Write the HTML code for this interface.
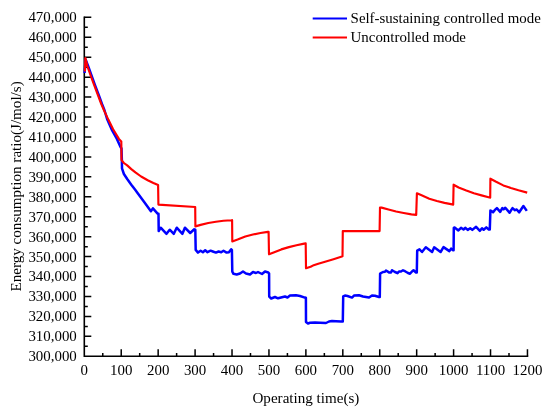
<!DOCTYPE html>
<html><head><meta charset="utf-8"><style>
html,body{margin:0;padding:0;background:#fff;width:550px;height:415px;overflow:hidden}
svg{display:block}
</style></head><body>
<svg width="550" height="415" viewBox="0 0 550 415">
<rect width="550" height="415" fill="#fff"/>
<g font-family="'Liberation Serif', 'Times New Roman', serif" font-size="14.9" fill="#000">
<text x="76.8" y="361.20" text-anchor="end">300,000</text>
<text x="76.8" y="341.26" text-anchor="end">310,000</text>
<text x="76.8" y="321.32" text-anchor="end">320,000</text>
<text x="76.8" y="301.38" text-anchor="end">330,000</text>
<text x="76.8" y="281.44" text-anchor="end">340,000</text>
<text x="76.8" y="261.50" text-anchor="end">350,000</text>
<text x="76.8" y="241.56" text-anchor="end">360,000</text>
<text x="76.8" y="221.62" text-anchor="end">370,000</text>
<text x="76.8" y="201.68" text-anchor="end">380,000</text>
<text x="76.8" y="181.74" text-anchor="end">390,000</text>
<text x="76.8" y="161.80" text-anchor="end">400,000</text>
<text x="76.8" y="141.86" text-anchor="end">410,000</text>
<text x="76.8" y="121.92" text-anchor="end">420,000</text>
<text x="76.8" y="101.98" text-anchor="end">430,000</text>
<text x="76.8" y="82.04" text-anchor="end">440,000</text>
<text x="76.8" y="62.10" text-anchor="end">450,000</text>
<text x="76.8" y="42.16" text-anchor="end">460,000</text>
<text x="76.8" y="22.22" text-anchor="end">470,000</text>
<text x="84.30" y="375.0" text-anchor="middle">0</text>
<text x="121.23" y="375.0" text-anchor="middle">100</text>
<text x="158.16" y="375.0" text-anchor="middle">200</text>
<text x="195.09" y="375.0" text-anchor="middle">300</text>
<text x="232.02" y="375.0" text-anchor="middle">400</text>
<text x="268.95" y="375.0" text-anchor="middle">500</text>
<text x="305.88" y="375.0" text-anchor="middle">600</text>
<text x="342.81" y="375.0" text-anchor="middle">700</text>
<text x="379.74" y="375.0" text-anchor="middle">800</text>
<text x="416.67" y="375.0" text-anchor="middle">900</text>
<text x="453.60" y="375.0" text-anchor="middle">1000</text>
<text x="490.53" y="375.0" text-anchor="middle">1100</text>
<text x="527.46" y="375.0" text-anchor="middle">1200</text>
<text x="305.9" y="403.1" text-anchor="middle" font-size="15.1">Operating time(s)</text>
<text transform="translate(21.4 186.4) rotate(-90)" text-anchor="middle" font-size="15.1">Energy consumption ratio(J/mol/s)</text>
<path d="M312.7 18.6H347" stroke="#00f" stroke-width="2"/>
<path d="M312.7 37.4H347" stroke="#f00" stroke-width="2"/>
<text x="350.6" y="23.3">Self-sustaining controlled mode</text>
<text x="350.6" y="41.9">Uncontrolled mode</text>
</g>
<path d="M84.30 17.4 V356.30 H527.46" fill="none" stroke="#000" stroke-width="1.6" stroke-linecap="square"/>
<path d="M84.30 346.33h3.5 M84.30 336.36h7 M84.30 326.39h3.5 M84.30 316.42h7 M84.30 306.45h3.5 M84.30 296.48h7 M84.30 286.51h3.5 M84.30 276.54h7 M84.30 266.57h3.5 M84.30 256.60h7 M84.30 246.63h3.5 M84.30 236.66h7 M84.30 226.69h3.5 M84.30 216.72h7 M84.30 206.75h3.5 M84.30 196.78h7 M84.30 186.81h3.5 M84.30 176.84h7 M84.30 166.87h3.5 M84.30 156.90h7 M84.30 146.93h3.5 M84.30 136.96h7 M84.30 126.99h3.5 M84.30 117.02h7 M84.30 107.05h3.5 M84.30 97.08h7 M84.30 87.11h3.5 M84.30 77.14h7 M84.30 67.17h3.5 M84.30 57.20h7 M84.30 47.23h3.5 M84.30 37.26h7 M84.30 27.29h3.5 M84.30 17.32h7 M102.77 356.30v-3.3 M121.23 356.30v-7 M139.69 356.30v-3.3 M158.16 356.30v-7 M176.62 356.30v-3.3 M195.09 356.30v-7 M213.56 356.30v-3.3 M232.02 356.30v-7 M250.49 356.30v-3.3 M268.95 356.30v-7 M287.42 356.30v-3.3 M305.88 356.30v-7 M324.35 356.30v-3.3 M342.81 356.30v-7 M361.28 356.30v-3.3 M379.74 356.30v-7 M398.21 356.30v-3.3 M416.67 356.30v-7 M435.14 356.30v-3.3 M453.60 356.30v-7 M472.07 356.30v-3.3 M490.53 356.30v-7 M509.00 356.30v-3.3 M527.46 356.30v-7" fill="none" stroke="#000" stroke-width="1.5"/>
<path d="M84.6 73.0 L85.6 59.5 L88.0 65.6 L94.9 84.9 L98.9 95.5 L102.0 104.0 L104.4 110.0 L107.3 119.6 L111.6 129.3 L116.9 138.9 L120.3 146.6 L121.5 148.5 L121.9 160.9 L122.0 168.3 L123.9 174.0 L127.2 179.0 L131.3 184.7 L135.0 189.6 L137.9 193.6 L144.0 201.8 L150.9 211.3 L152.9 208.4 L157.6 213.7 L158.5 213.8 L158.7 231.0 L160.7 227.7 L166.5 233.8 L169.7 229.7 L173.8 233.8 L176.7 227.7 L182.4 233.8 L184.9 227.7 L190.2 233.0 L194.3 229.3 L195.3 229.7 L195.7 249.9 L198.0 252.6 L200.6 250.7 L202.9 252.2 L205.2 250.3 L207.5 252.2 L210.6 250.7 L212.8 251.5 L215.9 252.6 L218.6 251.5 L221.2 252.2 L223.5 250.7 L226.6 252.6 L228.9 252.2 L231.2 249.2 L231.9 250.0 L232.3 271.6 L233.5 273.8 L236.7 274.5 L240.0 273.5 L243.0 271.5 L246.0 273.5 L250.0 274.5 L253.0 272.0 L256.0 273.0 L258.0 272.0 L262.0 274.0 L265.0 271.5 L268.3 272.5 L269.1 273.5 L269.2 296.6 L271.2 298.5 L275.0 297.0 L278.0 298.3 L281.0 297.5 L285.0 296.5 L287.5 297.5 L290.0 295.5 L296.0 295.3 L300.0 296.0 L304.9 297.6 L305.9 297.8 L306.0 321.9 L308.0 323.5 L310.0 322.8 L315.0 322.5 L320.0 322.7 L326.0 323.0 L329.0 321.5 L332.0 320.9 L336.0 321.2 L341.0 321.5 L342.8 321.5 L343.2 296.4 L345.0 295.5 L347.5 296.0 L352.0 297.6 L354.0 295.6 L359.0 295.2 L363.0 296.5 L369.0 297.5 L372.0 295.5 L375.0 295.7 L379.0 297.0 L379.8 297.0 L380.1 273.7 L380.5 273.3 L383.0 272.0 L385.0 271.8 L386.0 270.5 L389.0 272.4 L391.0 272.5 L392.0 270.2 L395.0 272.0 L397.5 273.2 L399.0 271.5 L401.0 271.5 L403.0 270.3 L405.0 271.2 L408.0 273.0 L410.0 273.7 L412.0 271.5 L413.5 270.3 L416.0 272.5 L416.8 272.5 L417.2 250.7 L419.5 249.4 L422.0 252.0 L425.8 247.3 L432.1 252.0 L434.2 247.3 L440.6 252.0 L443.5 247.1 L449.4 251.1 L451.1 248.6 L452.8 250.2 L453.6 250.2 L453.8 227.8 L454.6 227.4 L458.4 230.4 L461.0 227.8 L463.5 229.5 L465.2 227.8 L467.7 229.9 L470.2 228.2 L472.3 229.9 L476.1 226.8 L479.9 230.8 L482.0 228.2 L483.7 229.7 L486.3 227.4 L488.8 229.5 L489.8 229.5 L490.4 210.6 L491.4 211.0 L493.1 212.3 L494.7 210.2 L496.9 208.1 L500.2 211.9 L502.3 208.1 L503.6 209.3 L505.3 207.8 L509.5 212.7 L512.5 208.1 L515.0 210.2 L516.7 209.5 L519.2 212.3 L523.4 206.0 L526.8 210.9" fill="none" stroke="#00f" stroke-width="2.5" stroke-linejoin="round"/>
<path d="M84.9 71.5 L85.4 58.0 L87.2 65.6 L91.0 76.5 L94.1 84.9 L98.1 95.5 L101.3 104.0 L104.1 110.5 L108.3 119.6 L113.1 129.3 L118.9 138.9 L121.3 141.4 L121.5 160.1 L123.9 163.0 L127.2 165.4 L131.3 169.1 L135.4 172.4 L141.1 176.5 L147.7 180.2 L153.4 183.0 L158.1 185.1 L158.4 204.6 L195.2 207.0 L195.4 226.4 L200.6 224.9 L208.3 223.0 L215.9 221.8 L223.5 220.7 L231.5 220.2 L232.1 220.1 L232.3 241.4 L237.6 239.5 L245.3 236.5 L252.9 234.5 L260.5 233.0 L267.8 231.9 L268.6 231.8 L269.0 254.3 L273.6 252.4 L281.3 249.4 L288.9 247.1 L296.5 245.2 L304.2 243.6 L305.7 243.4 L306.0 268.3 L310.6 266.8 L312.9 265.6 L318.3 263.7 L325.9 261.5 L333.5 259.2 L341.9 256.5 L342.5 256.3 L342.8 231.0 L379.6 231.1 L380.0 207.6 L381.6 207.6 L388.5 209.5 L396.1 211.5 L403.7 213.0 L411.4 214.4 L416.2 214.9 L416.9 193.3 L421.6 195.3 L429.3 198.7 L436.9 201.0 L444.5 202.9 L452.2 204.4 L453.2 204.6 L453.6 184.7 L458.6 187.5 L466.3 190.6 L473.9 193.3 L481.5 195.4 L489.5 197.5 L490.2 197.6 L490.4 178.7 L495.6 181.5 L503.3 185.4 L510.9 188.0 L518.5 190.3 L527.2 192.6" fill="none" stroke="#f00" stroke-width="2.15" stroke-linejoin="round"/>
</svg>
</body></html>
